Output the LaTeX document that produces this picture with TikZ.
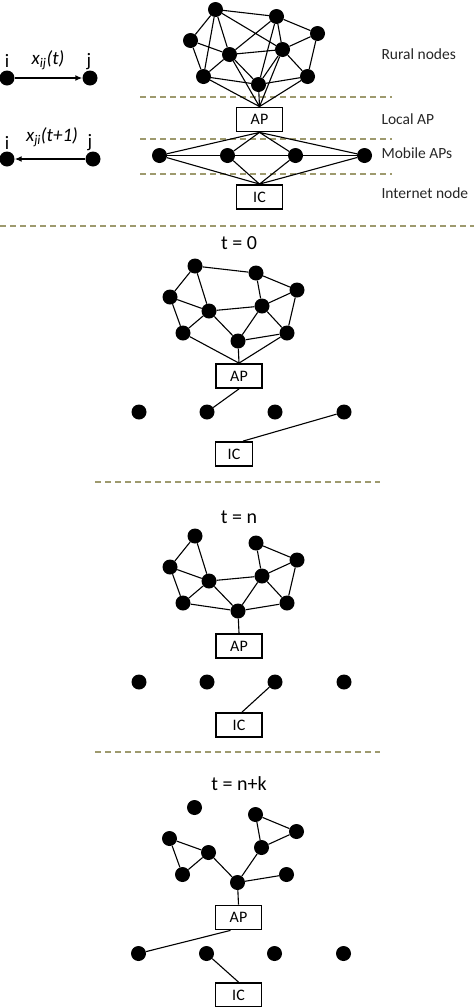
\documentclass[tikz,border=0pt]{standalone}
\usepackage{fontspec}
\setmainfont{Carlito}
\usetikzlibrary{arrows.meta}
\definecolor{sepcol}{HTML}{9E9A6E}
\newcommand{\placerural}{%
  \node[dot] (A) at (-44,-110) {};
  \node[dot] (B) at (17,-103) {};
  \node[dot] (C) at (58,-86) {};
  \node[dot] (D) at (-69,-79) {};
  \node[dot] (E) at (-30,-65) {};
  \node[dot] (F) at (23,-70) {};
  \node[dot] (G) at (-56,-43) {};
  \node[dot] (H) at (-1,-35) {};
  \node[dot] (I) at (48,-43) {};
  \node[box] (AP) at (0,0) {AP};
  \node[dot] (M1) at (-100,36) {};
  \node[dot] (M2) at (-32,36) {};
  \node[dot] (M3) at (36,36) {};
  \node[dot] (M4) at (105,36) {};
}
\begin{document}
\begin{tikzpicture}[x=1pt,y=-1pt,
  dot/.style={circle,fill=black,inner sep=0pt,minimum size=15pt},
  edge/.style={line width=1.1pt},
  box/.style={draw,line width=1.8pt,minimum width=46pt,minimum height=24pt,inner sep=0pt,font=\fontsize{16}{16}\selectfont},
  sep/.style={draw=sepcol,dash pattern=on 6pt off 4pt,line width=1.2pt},
  lab/.style={anchor=west,font=\fontsize{15.5}{15.5}\selectfont,text=black!85},
  tlab/.style={font=\fontsize{20}{20}\selectfont},
  leg/.style={font=\fontsize{19}{19}\selectfont},
  arr/.style={line width=1.8pt,-{Latex[length=7pt,width=6pt]}}]
\useasboundingbox (0,0) rectangle (474,1007);

% legend
\node[dot] (li1) at (7,78) {};
\node[dot] (lj1) at (90,78) {};
\draw[arr] (li1) -- (lj1);
\node[leg] (ti1) at (7,61) {i};
\node[leg] (tj1) at (89,62) {j};
\node[leg] (tx1) at (48,60) {\itshape x\textsubscript{ij}(t)};
\node[dot] (li2) at (7,159) {};
\node[dot] (lj2) at (93,159) {};
\draw[arr] (lj2) -- (li2);
\node[leg] (ti2) at (7,143) {i};
\node[leg] (tj2) at (90,143) {j};
\node[leg] (tx2) at (52,137) {\itshape x\textsubscript{ji}(t+1)};

% top overview
\draw[sep] (140,97) -- (392,97);
\draw[sep] (140,139) -- (392,139);
\draw[sep] (140,174) -- (392,174);
\begin{scope}[shift={(259.5,119.5)},name prefix=s-]
  \placerural
  \node[box] (IC) at (0,77.5) {IC};
  \draw[edge] (A)--(B) (A)--(D) (A)--(G) (A)--(E) (A)--(F)
    (B)--(C) (B)--(E) (B)--(F) (B)--(H)
    (C)--(F) (C)--(I) (D)--(E) (D)--(G)
    (E)--(F) (E)--(G) (E)--(H) (F)--(H) (F)--(I)
    (G)--(H) (H)--(I);
  \draw[edge] (G)--(AP.north) (E)--(AP.north) (H)--(AP.north) (F)--(AP.north) (I)--(AP.north);
  \draw[edge] (AP.south)--(M1) (AP.south)--(M2) (AP.south)--(M3) (AP.south)--(M4);
  \draw[edge] (M1)--(M2)--(M3)--(M4);
  \draw[edge] (M1)--(IC.north) (M2)--(IC.north) (M3)--(IC.north) (M4)--(IC.north);
\end{scope}
\node[lab] (l1) at (378,54) {Rural nodes};
\node[lab] (l2) at (378,119) {Local AP};
\node[lab] (l3) at (378,153) {Mobile APs};
\node[lab] (l4) at (378,193) {Internet node};

\draw[sep] (0,226) -- (474,226);

% t = 0
\node[tlab] (t0) at (239,243) {t = 0};
\begin{scope}[shift={(239,376)},name prefix=a-]
  \placerural
  \node[box,minimum width=37pt] (IC) at (-5,78) {IC};
  \draw[edge] (A)--(B) (A)--(D) (A)--(E) (B)--(C) (B)--(F) (C)--(I)
    (D)--(E) (D)--(G) (E)--(F) (E)--(G) (E)--(H) (F)--(C)
    (F)--(H) (F)--(I) (H)--(I);
  \draw[edge] (G)--(AP.north) (H)--(AP.north) (I)--(AP.north);
  \draw[edge] (AP.south)--(M2);
  \draw[edge] ([xshift=9pt]IC.north)--(M4);
\end{scope}

\draw[sep] (95,482) -- (380,482);

% t = n
\node[tlab] (tn) at (239,517) {t = n};
\begin{scope}[shift={(239,646)},name prefix=b-]
  \placerural
  \node[box] (IC) at (0,79) {IC};
  \draw[edge] (A)--(D) (A)--(E) (B)--(C) (B)--(F) (C)--(F) (C)--(I)
    (D)--(E) (D)--(G) (E)--(G) (E)--(F) (E)--(H) (F)--(H) (F)--(I)
    (G)--(H) (H)--(I);
  \draw[edge] (H)--(AP.north);
  \draw[edge] ([xshift=3pt]IC.north)--(M3);
\end{scope}

\draw[sep] (95,752) -- (380,752);

% t = n+k
\node[tlab] (tk) at (239,784) {t = n+k};
\begin{scope}[shift={(238.5,917.5)},name prefix=c-]
  \placerural
  \node[box] (IC) at (0,77.5) {IC};
  \draw[edge] (B)--(C) (B)--(F) (C)--(F) (D)--(E) (D)--(G) (G)--(E)
    (E)--(H) (F)--(H) (H)--(I);
  \draw[edge] (H)--(AP.north);
  \draw[edge] ([xshift=-8pt]AP.south)--(M1);
  \draw[edge] (M2)--(IC.north);
\end{scope}
\end{tikzpicture}
\end{document}
